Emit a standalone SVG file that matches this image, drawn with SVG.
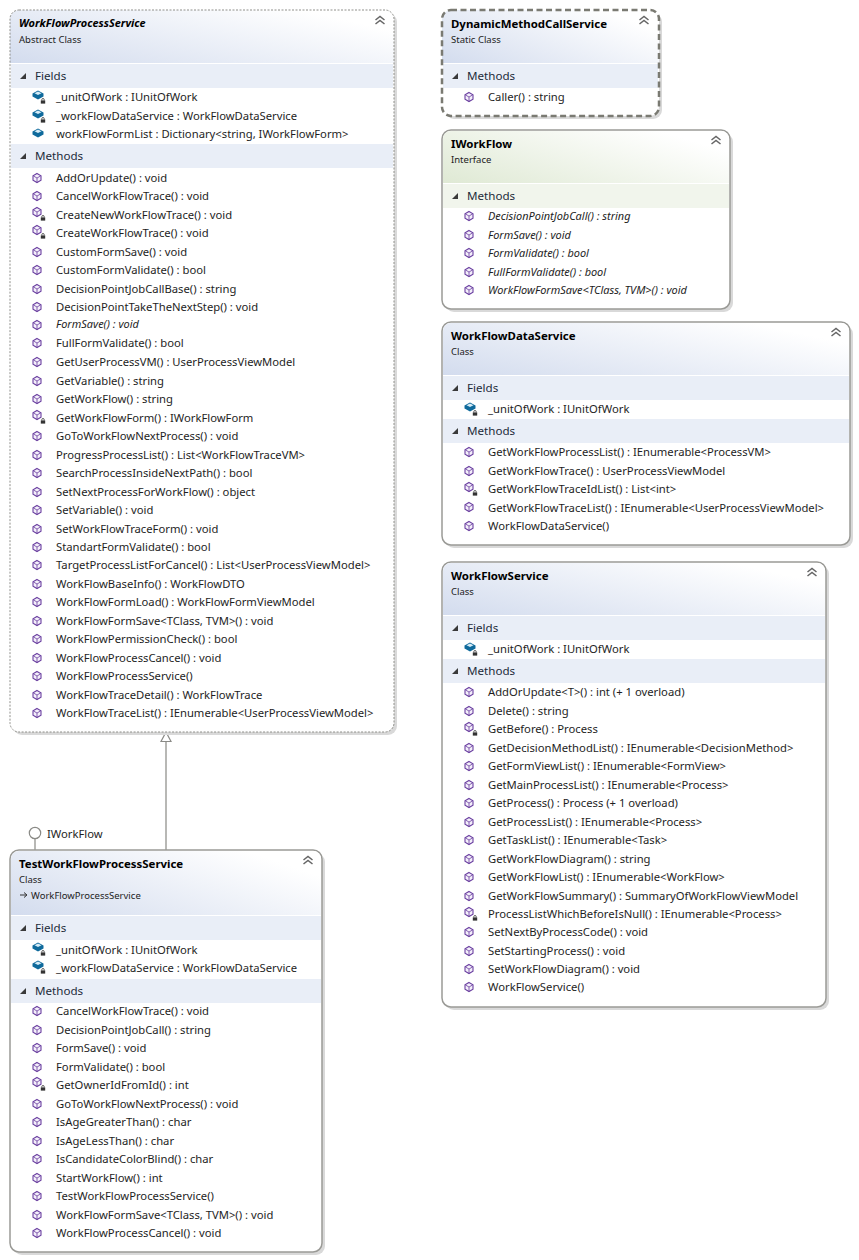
<svg xmlns="http://www.w3.org/2000/svg" xmlns:xlink="http://www.w3.org/1999/xlink" width="859" height="1260" viewBox="0 0 859 1260">
<style>
text{font-family:"Noto Sans","Open Sans","Liberation Sans",sans-serif;font-size:11.25px;fill:#1e1e1e}
.t{font-size:11.45px;font-weight:700;fill:#000}
.s{font-size:9.5px;fill:#222}
.sec{font-size:11.6px;fill:#1c2b3a}
.i{font-style:italic;font-size:10.95px}
.t.i{font-size:10.95px}
.sh{fill:#d9d9d9}
.b{fill:#fff;stroke:#9a9a96;stroke-width:1.5}
.bd{fill:none;stroke:#8f8f8a;stroke-width:1;stroke-dasharray:2 1.5}
.bs{fill:none;stroke:#7a7a72;stroke-width:2.5;stroke-dasharray:6 3.5}
.secb{fill:#e9eef7}
.secg{fill:#f1f5ec}
.tri{fill:#3a3a3a}
.ch{fill:none;stroke:#666;stroke-width:1.5}
.c{fill:none;stroke:#a0a09c;stroke-width:1.5}
</style>
<defs>
<linearGradient id="hb" x1="0" y1="1" x2="1" y2="0.4"><stop offset="0" stop-color="#d3dcee"/><stop offset="1" stop-color="#fff"/></linearGradient>
<linearGradient id="hg" x1="0" y1="1" x2="1" y2="0.4"><stop offset="0" stop-color="#dfe9d4"/><stop offset="1" stop-color="#fff"/></linearGradient>
<g id="m"><path d="M0-4.6 4-2.3V2.3L0 4.6-4 2.3V-2.3Z" fill="#f4effa" stroke="#6a3fa0" stroke-width="1.1"/><path d="M-3.7-2.1 0 0 3.7-2.1M0 0V4.2" fill="none" stroke="#6a3fa0" stroke-width=".8"/></g>
<g id="f"><path d="M-5.5-1.5 0-4.5 5.5-1.5V1.5L0 4.5-5.5 1.5Z" fill="#0f6a9c"/><path d="M-3.5-1.8 0-3.6 3.5-1.8 0 0Z" fill="#d6ecf7"/></g>
<g id="l"><rect x="-2.2" y="-.6" width="4.4" height="3.2" fill="#333"/><path d="M-1.2-.6V-1.3A1.2 1.2 0 0 1 1.2-1.3V-.6" fill="none" stroke="#333" stroke-width=".8"/></g>
<path id="a" d="M-3 3 3 3 3-3Z"/>
<path id="cv" d="M-4.5 -1 0-4.5 4.5-1M-4.5 3 0-.5 4.5 3"/>
</defs>
<g id="connectors">
<path class="c" d="M166 850V742"/>
<path d="M166 732 171 741.5H161Z" fill="#fff" stroke="#8a8a86" stroke-width="1.2"/>
<path class="c" d="M35 850V839"/>
<circle cx="35" cy="833" r="5.7" fill="#fff" stroke="#8a8a86" stroke-width="1.2"/>
<text x="47" y="838">IWorkFlow</text>
</g>
<g id="WorkFlowProcessService">
<rect class="sh" x="13" y="13" width="384" height="722" rx="9"/>
<rect x="10" y="10" width="384" height="722" rx="9" fill="#fff"/>
<path d="M10 63V19a9 9 0 0 1 9-9H385a9 9 0 0 1 9 9V63Z" fill="url(#hb)"/>
<rect class="secb" x="11" y="64" width="382" height="24"/><rect class="secb" x="11" y="144" width="382" height="24"/>
<rect class="bd" x="10" y="10" width="384" height="722" rx="9"/>
<text class="t i" x="19" y="27">WorkFlowProcessService</text><text class="s" x="19" y="43">Abstract Class</text>
<use href="#cv" class="ch" x="380" y="21"/>
<use href="#a" class="tri" x="23" y="76"/><text class="sec" x="35" y="80">Fields</text>
<use href="#f" x="38" y="95"/><use href="#l" x="43" y="101"/><text x="56" y="101">_unitOfWork : IUnitOfWork</text>
<use href="#f" x="38" y="114"/><use href="#l" x="43" y="120"/><text x="56" y="120">_workFlowDataService : WorkFlowDataService</text>
<use href="#f" x="38" y="133"/><text x="56" y="138">workFlowFormList : Dictionary&lt;string, IWorkFlowForm&gt;</text>
<use href="#a" class="tri" x="23" y="156"/><text class="sec" x="35" y="160">Methods</text>
<use href="#m" x="37" y="178"/><text x="56" y="182">AddOrUpdate() : void</text>
<use href="#m" x="37" y="196"/><text x="56" y="200">CancelWorkFlowTrace() : void</text>
<use href="#m" x="37" y="212"/><use href="#l" x="43" y="218"/><text x="56" y="219">CreateNewWorkFlowTrace() : void</text>
<use href="#m" x="37" y="230"/><use href="#l" x="43" y="236"/><text x="56" y="237">CreateWorkFlowTrace() : void</text>
<use href="#m" x="37" y="252"/><text x="56" y="256">CustomFormSave() : void</text>
<use href="#m" x="37" y="270"/><text x="56" y="274">CustomFormValidate() : bool</text>
<use href="#m" x="37" y="289"/><text x="56" y="293">DecisionPointJobCallBase() : string</text>
<use href="#m" x="37" y="307"/><text x="56" y="311">DecisionPointTakeTheNextStep() : void</text>
<use href="#m" x="37" y="325"/><text class="i" x="56" y="328">FormSave() : void</text>
<use href="#m" x="37" y="343"/><text x="56" y="347">FullFormValidate() : bool</text>
<use href="#m" x="37" y="362"/><text x="56" y="366">GetUserProcessVM() : UserProcessViewModel</text>
<use href="#m" x="37" y="381"/><text x="56" y="385">GetVariable() : string</text>
<use href="#m" x="37" y="399"/><text x="56" y="403">GetWorkFlow() : string</text>
<use href="#m" x="37" y="415"/><use href="#l" x="43" y="421"/><text x="56" y="422">GetWorkFlowForm() : IWorkFlowForm</text>
<use href="#m" x="37" y="436"/><text x="56" y="440">GoToWorkFlowNextProcess() : void</text>
<use href="#m" x="37" y="455"/><text x="56" y="459">ProgressProcessList() : List&lt;WorkFlowTraceVM&gt;</text>
<use href="#m" x="37" y="473"/><text x="56" y="477">SearchProcessInsideNextPath() : bool</text>
<use href="#m" x="37" y="492"/><text x="56" y="496">SetNextProcessForWorkFlow() : object</text>
<use href="#m" x="37" y="510"/><text x="56" y="514">SetVariable() : void</text>
<use href="#m" x="37" y="529"/><text x="56" y="533">SetWorkFlowTraceForm() : void</text>
<use href="#m" x="37" y="547"/><text x="56" y="551">StandartFormValidate() : bool</text>
<use href="#m" x="37" y="565"/><text x="56" y="569">TargetProcessListForCancel() : List&lt;UserProcessViewModel&gt;</text>
<use href="#m" x="37" y="584"/><text x="56" y="588">WorkFlowBaseInfo() : WorkFlowDTO</text>
<use href="#m" x="37" y="602"/><text x="56" y="606">WorkFlowFormLoad() : WorkFlowFormViewModel</text>
<use href="#m" x="37" y="621"/><text x="56" y="625">WorkFlowFormSave&lt;TClass, TVM&gt;() : void</text>
<use href="#m" x="37" y="639"/><text x="56" y="643">WorkFlowPermissionCheck() : bool</text>
<use href="#m" x="37" y="658"/><text x="56" y="662">WorkFlowProcessCancel() : void</text>
<use href="#m" x="37" y="676"/><text x="56" y="680">WorkFlowProcessService()</text>
<use href="#m" x="37" y="695"/><text x="56" y="699">WorkFlowTraceDetail() : WorkFlowTrace</text>
<use href="#m" x="37" y="713"/><text x="56" y="717">WorkFlowTraceList() : IEnumerable&lt;UserProcessViewModel&gt;</text>
</g>
<g id="DynamicMethodCallService">
<rect class="sh" x="445" y="13" width="217" height="106" rx="9"/>
<rect x="442" y="10" width="217" height="106" rx="9" fill="#fff"/>
<path d="M442 63V19a9 9 0 0 1 9-9H650a9 9 0 0 1 9 9V63Z" fill="url(#hb)"/>
<rect class="secb" x="443" y="64" width="215" height="24"/>
<rect class="bs" x="442" y="10" width="217" height="106" rx="9"/>
<text class="t" x="451" y="28">DynamicMethodCallService</text><text class="s" x="451" y="43">Static Class</text>
<use href="#cv" class="ch" x="644" y="21"/>
<use href="#a" class="tri" x="455" y="76"/><text class="sec" x="467" y="80">Methods</text>
<use href="#m" x="469" y="97"/><text x="488" y="101">Caller() : string</text>
</g>
<g id="IWorkFlow">
<rect class="sh" x="445" y="133" width="288" height="179" rx="9"/>
<rect class="b" x="442" y="130" width="288" height="179" rx="9"/>
<path d="M443 183V139a8 8 0 0 1 8-8H721a8 8 0 0 1 8 8V183Z" fill="url(#hg)"/>
<rect class="secg" x="443" y="184" width="286" height="24"/>
<text class="t" x="451" y="148">IWorkFlow</text><text class="s" x="451" y="163">Interface</text>
<use href="#cv" class="ch" x="716" y="141"/>
<use href="#a" class="tri" x="455" y="196"/><text class="sec" x="467" y="200">Methods</text>
<use href="#m" x="469" y="216"/><text class="i" x="488" y="220">DecisionPointJobCall() : string</text>
<use href="#m" x="469" y="235"/><text class="i" x="488" y="239">FormSave() : void</text>
<use href="#m" x="469" y="253"/><text class="i" x="488" y="257">FormValidate() : bool</text>
<use href="#m" x="469" y="272"/><text class="i" x="488" y="276">FullFormValidate() : bool</text>
<use href="#m" x="469" y="290"/><text class="i" x="488" y="294">WorkFlowFormSave&lt;TClass, TVM&gt;() : void</text>
</g>
<g id="WorkFlowDataService">
<rect class="sh" x="445" y="325" width="408" height="223" rx="9"/>
<rect class="b" x="442" y="322" width="408" height="223" rx="9"/>
<path d="M443 375V331a8 8 0 0 1 8-8H841a8 8 0 0 1 8 8V375Z" fill="url(#hb)"/>
<rect class="secb" x="443" y="376" width="406" height="24"/><rect class="secb" x="443" y="419" width="406" height="24"/>
<text class="t" x="451" y="340">WorkFlowDataService</text><text class="s" x="451" y="355">Class</text>
<use href="#cv" class="ch" x="836" y="333"/>
<use href="#a" class="tri" x="455" y="388"/><text class="sec" x="467" y="392">Fields</text>
<use href="#f" x="470" y="407"/><use href="#l" x="475" y="413"/><text x="488" y="413">_unitOfWork : IUnitOfWork</text>
<use href="#a" class="tri" x="455" y="431"/><text class="sec" x="467" y="435">Methods</text>
<use href="#m" x="469" y="452"/><text x="488" y="456">GetWorkFlowProcessList() : IEnumerable&lt;ProcessVM&gt;</text>
<use href="#m" x="469" y="471"/><text x="488" y="475">GetWorkFlowTrace() : UserProcessViewModel</text>
<use href="#m" x="469" y="487"/><use href="#l" x="475" y="493"/><text x="488" y="493">GetWorkFlowTraceIdList() : List&lt;int&gt;</text>
<use href="#m" x="469" y="507"/><text x="488" y="512">GetWorkFlowTraceList() : IEnumerable&lt;UserProcessViewModel&gt;</text>
<use href="#m" x="469" y="526"/><text x="488" y="530">WorkFlowDataService()</text>
</g>
<g id="WorkFlowService">
<rect class="sh" x="445" y="565" width="384" height="445" rx="9"/>
<rect class="b" x="442" y="562" width="384" height="445" rx="9"/>
<path d="M443 615V571a8 8 0 0 1 8-8H817a8 8 0 0 1 8 8V615Z" fill="url(#hb)"/>
<rect class="secb" x="443" y="616" width="382" height="24"/><rect class="secb" x="443" y="659" width="382" height="24"/>
<text class="t" x="451" y="580">WorkFlowService</text><text class="s" x="451" y="595">Class</text>
<use href="#cv" class="ch" x="812" y="573"/>
<use href="#a" class="tri" x="455" y="628"/><text class="sec" x="467" y="632">Fields</text>
<use href="#f" x="470" y="647"/><use href="#l" x="475" y="653"/><text x="488" y="653">_unitOfWork : IUnitOfWork</text>
<use href="#a" class="tri" x="455" y="671"/><text class="sec" x="467" y="675">Methods</text>
<use href="#m" x="469" y="692"/><text x="488" y="696">AddOrUpdate&lt;T&gt;() : int (+ 1 overload)</text>
<use href="#m" x="469" y="711"/><text x="488" y="715">Delete() : string</text>
<use href="#m" x="469" y="727"/><use href="#l" x="475" y="733"/><text x="488" y="733">GetBefore() : Process</text>
<use href="#m" x="469" y="748"/><text x="488" y="752">GetDecisionMethodList() : IEnumerable&lt;DecisionMethod&gt;</text>
<use href="#m" x="469" y="766"/><text x="488" y="770">GetFormViewList() : IEnumerable&lt;FormView&gt;</text>
<use href="#m" x="469" y="785"/><text x="488" y="789">GetMainProcessList() : IEnumerable&lt;Process&gt;</text>
<use href="#m" x="469" y="803"/><text x="488" y="807">GetProcess() : Process (+ 1 overload)</text>
<use href="#m" x="469" y="822"/><text x="488" y="826">GetProcessList() : IEnumerable&lt;Process&gt;</text>
<use href="#m" x="469" y="840"/><text x="488" y="844">GetTaskList() : IEnumerable&lt;Task&gt;</text>
<use href="#m" x="469" y="859"/><text x="488" y="863">GetWorkFlowDiagram() : string</text>
<use href="#m" x="469" y="877"/><text x="488" y="881">GetWorkFlowList() : IEnumerable&lt;WorkFlow&gt;</text>
<use href="#m" x="469" y="896"/><text x="488" y="900">GetWorkFlowSummary() : SummaryOfWorkFlowViewModel</text>
<use href="#m" x="469" y="912"/><use href="#l" x="475" y="918"/><text x="488" y="918">ProcessListWhichBeforeIsNull() : IEnumerable&lt;Process&gt;</text>
<use href="#m" x="469" y="932"/><text x="488" y="936">SetNextByProcessCode() : void</text>
<use href="#m" x="469" y="951"/><text x="488" y="955">SetStartingProcess() : void</text>
<use href="#m" x="469" y="969"/><text x="488" y="973">SetWorkFlowDiagram() : void</text>
<use href="#m" x="469" y="987"/><text x="488" y="991">WorkFlowService()</text>
</g>
<g id="TestWorkFlowProcessService">
<rect class="sh" x="13" y="853" width="312" height="402" rx="9"/>
<rect class="b" x="10" y="850" width="312" height="402" rx="9"/>
<path d="M11 915V859a8 8 0 0 1 8-8H313a8 8 0 0 1 8 8V915Z" fill="url(#hb)"/>
<rect class="secb" x="11" y="916" width="310" height="24"/><rect class="secb" x="11" y="979" width="310" height="24"/>
<text class="t" x="19" y="868">TestWorkFlowProcessService</text><text class="s" x="19" y="883">Class</text>
<path d="M20 895H26M24 892.5 27 895 24 897.5" fill="none" stroke="#333"/><text class="s" x="31" y="899">WorkFlowProcessService</text>
<use href="#cv" class="ch" x="308" y="861"/>
<use href="#a" class="tri" x="23" y="928"/><text class="sec" x="35" y="932">Fields</text>
<use href="#f" x="38" y="947"/><use href="#l" x="43" y="953"/><text x="56" y="954">_unitOfWork : IUnitOfWork</text>
<use href="#f" x="38" y="965"/><use href="#l" x="43" y="971"/><text x="56" y="972">_workFlowDataService : WorkFlowDataService</text>
<use href="#a" class="tri" x="23" y="991"/><text class="sec" x="35" y="995">Methods</text>
<use href="#m" x="37" y="1011"/><text x="56" y="1015">CancelWorkFlowTrace() : void</text>
<use href="#m" x="37" y="1030"/><text x="56" y="1034">DecisionPointJobCall() : string</text>
<use href="#m" x="37" y="1048"/><text x="56" y="1052">FormSave() : void</text>
<use href="#m" x="37" y="1067"/><text x="56" y="1071">FormValidate() : bool</text>
<use href="#m" x="37" y="1082"/><use href="#l" x="43" y="1088"/><text x="56" y="1089">GetOwnerIdFromId() : int</text>
<use href="#m" x="37" y="1104"/><text x="56" y="1108">GoToWorkFlowNextProcess() : void</text>
<use href="#m" x="37" y="1122"/><text x="56" y="1126">IsAgeGreaterThan() : char</text>
<use href="#m" x="37" y="1141"/><text x="56" y="1145">IsAgeLessThan() : char</text>
<use href="#m" x="37" y="1159"/><text x="56" y="1163">IsCandidateColorBlind() : char</text>
<use href="#m" x="37" y="1178"/><text x="56" y="1182">StartWorkFlow() : int</text>
<use href="#m" x="37" y="1196"/><text x="56" y="1200">TestWorkFlowProcessService()</text>
<use href="#m" x="37" y="1215"/><text x="56" y="1219">WorkFlowFormSave&lt;TClass, TVM&gt;() : void</text>
<use href="#m" x="37" y="1233"/><text x="56" y="1237">WorkFlowProcessCancel() : void</text>
</g>
</svg>
